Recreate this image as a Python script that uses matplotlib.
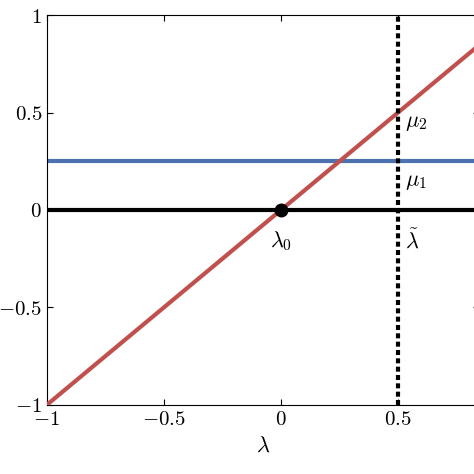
import matplotlib
matplotlib.use("Agg")
import matplotlib.pyplot as plt
import numpy as np

plt.rcParams['mathtext.fontset'] = 'cm'
plt.rcParams['font.family'] = 'serif'
plt.rcParams['font.serif'] = ['DejaVu Serif']

lam = [-1.0, 0.845]
red_y = [-1.0, 0.845]
blue_level = 0.25
lam_tilde = 0.5
lam0 = 0.0

fig = plt.figure(figsize=(4.74, 4.74), dpi=100)
ax = fig.add_axes([0.099, 0.146, 0.911, 0.822])
ax.plot(lam, [0, 0], color='black', lw=3, zorder=2)
ax.plot(lam, [blue_level]*2, color='#4c72b0', lw=3, zorder=2)
ax.plot(lam, red_y, color='#c0504d', lw=3, zorder=3)
ax.plot([lam_tilde]*2, [-1, 1], color='black', lw=3, ls=(0, (1.2, 0.8)), zorder=4)
ax.plot([lam0], [0], 'o', color='black', ms=9, zorder=5)

ax.text(0.0, -0.1, r'$\lambda_0$', ha='center', va='top', fontsize=16)
ax.text(0.53, 0.45, r'$\mu_2$', ha='left', va='center', fontsize=16)
ax.text(0.53, 0.15, r'$\mu_1$', ha='left', va='center', fontsize=16)
ax.text(0.53, -0.1, r'$\tilde{\lambda}$', ha='left', va='top', fontsize=16)

ax.set_xlim(-1, 0.845)
ax.set_ylim(-1, 1)
ax.set_xticks([-1, -0.5, 0, 0.5])
ax.set_xticklabels([r'$-1$', r'$-0.5$', r'$0$', r'$0.5$'], fontsize=15)
ax.set_yticks([-1, -0.5, 0, 0.5, 1])
ax.set_yticklabels([r'$-1$', r'$-0.5$', r'$0$', r'$0.5$', r'$1$'], fontsize=15)
ax.tick_params(direction='in', top=True, right=True, length=4)
ax.set_xlabel(r'$\lambda$', fontsize=16)
fig.savefig('out.png', dpi=100)
